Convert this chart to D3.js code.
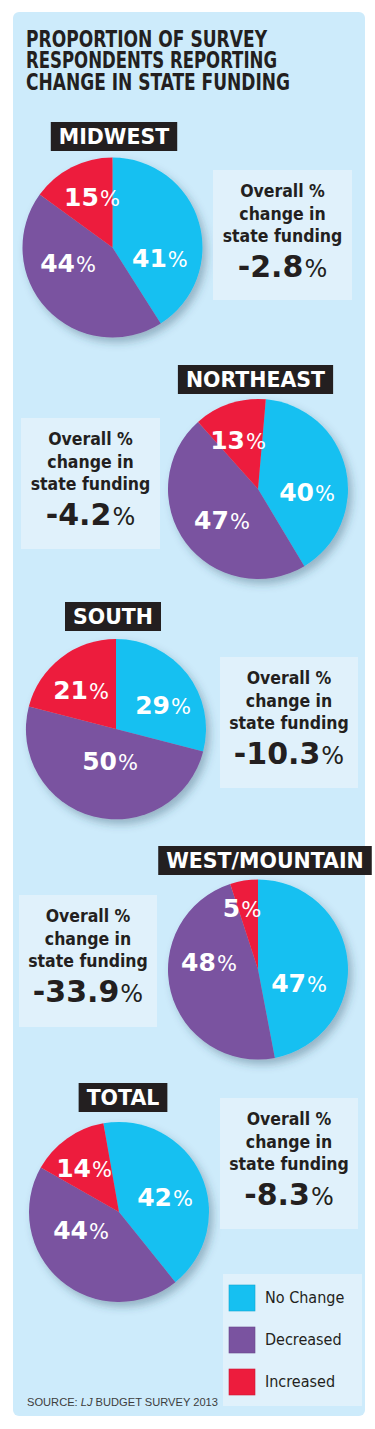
<!DOCTYPE html>
<html>
<head>
<meta charset="utf-8">
<script src="https://cdn.jsdelivr.net/npm/d3@7"></script>
<style>
  body { margin: 0; background: #fff; }
  svg { display: block; }
</style>
</head>
<body>
<div id="chart"></div>
<script>
// data
var regions = ["MIDWEST", "NORTHEAST", "SOUTH", "WEST/MOUNTAIN", "TOTAL"];
var categories = ["No Change", "Decreased", "Increased"];
var noChange = [41, 40, 29, 47, 42];
var decreased = [44, 47, 50, 48, 44];
var increased = [15, 13, 21, 5, 14];
var overallChange = [-2.8, -4.2, -10.3, -33.9, -8.3];
var titleLines = ["PROPORTION OF SURVEY", "RESPONDENTS REPORTING", "CHANGE IN STATE FUNDING"];

var colors = ["#16c0f1", "#7a53a0", "#ed1c3d"];

// layout for each block (pie centre, tag, info box, label spots)
var layout = [
    {cx: 112.5, cy: 247.5, rot: 0, tagX: 114, tagY: 122, box: [213, 170, 139, 130],
     lab: [[102.5, 48.6], [250.8, 47.1], [337.9, 54.5]]},
    {cx: 258, cy: 489, rot: 5, tagX: 255.5, tagY: 365, box: [21, 418, 139, 131],
     lab: [[93.5, 49.1], [229.3, 47.5], [337.8, 52.9]]},
    {cx: 116, cy: 729, rot: 0, tagX: 113, tagY: 602, box: [220, 657, 138, 131],
     lab: [[63, 52.8], [190.6, 32.6], [318.1, 52.4]]},
    {cx: 258, cy: 969.5, rot: 0, tagX: 265, tagY: 846, box: [19, 895, 138, 132],
     lab: [[108.2, 43.2], [278.7, 49.6], [345.4, 63.5]]},
    {cx: 119, cy: 1212, rot: -10, tagX: 123, tagY: 1083, box: [220, 1098, 138, 131],
     lab: [[71.9, 48.4], [244.7, 42], [321.5, 56.2]]}
];

var width = 375, height = 1429, radius = 90;
var sansB = '"DejaVu Sans", sans-serif';

var svg = d3.select("#chart").append("svg")
    .attr("width", width).attr("height", height);

var defs = svg.append("defs");
var f = defs.append("filter").attr("id", "shadow")
    .attr("x", "-20%").attr("y", "-20%").attr("width", "150%").attr("height", "150%");
f.append("feDropShadow").attr("dx", 4).attr("dy", 5).attr("stdDeviation", 4)
    .attr("flood-color", "#2a4a60").attr("flood-opacity", 0.35);

// background panel
svg.append("rect")
    .attr("x", 13).attr("y", 12).attr("width", 352).attr("height", 1404)
    .attr("rx", 6).attr("fill", "#cdebfb");

// title
var titleWidths = [241, 251, 264];
svg.selectAll(".title").data(titleLines).enter().append("text")
    .attr("class", "title")
    .attr("x", 26)
    .attr("y", function(d, i) { return 46.7 + i * 21.7; })
    .attr("textLength", function(d, i) { return titleWidths[i]; })
    .attr("lengthAdjust", "spacingAndGlyphs")
    .style("font-family", '"Liberation Sans Narrow", "DejaVu Sans Condensed", "Liberation Sans", sans-serif')
    .style("font-stretch", "condensed")
    .style("font-weight", "bold")
    .style("font-size", "23.5px")
    .style("fill", "#231f20")
    .text(function(d) { return d; });

var pie = d3.pie().sort(null).value(function(d) { return d; });
var arc = d3.arc().innerRadius(0).outerRadius(radius);

regions.forEach(function(name, i) {
    var L = layout[i];
    var vals = [noChange[i], decreased[i], increased[i]];
    var a0 = L.rot * Math.PI / 180;
    var arcs = pie.startAngle(a0).endAngle(a0 + 2 * Math.PI)(vals);

    var g = svg.append("g").attr("transform", "translate(" + L.cx + "," + L.cy + ")");
    var slices = g.append("g").attr("filter", "url(#shadow)");
    slices.selectAll("path").data(arcs).enter().append("path")
        .attr("d", arc)
        .attr("fill", function(d, j) { return colors[j]; });

    // percentage labels
    var lab = g.selectAll(".pct").data(arcs).enter().append("text")
        .attr("class", "pct")
        .attr("transform", function(d, j) {
            var p = d3.pointRadial(L.lab[j][0] * Math.PI / 180, L.lab[j][1]);
            return "translate(" + p[0] + "," + (p[1] + 9) + ")";
        })
        .style("text-anchor", "middle")
        .style("font-family", sansB)
        .style("fill", "#fff");
    lab.append("tspan").style("font-weight", "bold").style("font-size", "25px")
        .text(function(d) { return d.data; });
    lab.append("tspan").style("font-size", "21px").attr("dx", 1)
        .text("%");

    // region tag
    var tag = svg.append("g");
    var tt = tag.append("text")
        .attr("x", L.tagX).attr("y", L.tagY + 21.5)
        .style("text-anchor", "middle")
        .style("font-family", sansB)
        .style("font-weight", "bold")
        .style("font-size", "20.5px")
        .style("fill", "#fff")
        .text(name);
    var bb = tt.node().getBBox();
    tag.insert("rect", "text")
        .attr("x", bb.x - 8).attr("y", L.tagY)
        .attr("width", bb.width + 16).attr("height", 29)
        .attr("fill", "#231f20");

    // info box
    var b = L.box;
    svg.append("rect")
        .attr("x", b[0]).attr("y", b[1]).attr("width", b[2]).attr("height", b[3])
        .attr("fill", "#e0f1fb");
    var mx = b[0] + b[2] / 2;
    var lines = ["Overall %", "change in", "state funding"];
    svg.selectAll(null).data(lines).enter().append("text")
        .attr("x", mx)
        .attr("y", function(d, k) { return b[1] + 27 + k * 22.5; })
        .style("text-anchor", "middle")
        .style("font-family", sansB)
        .style("font-stretch", "condensed")
        .style("font-weight", "bold")
        .style("font-size", "17.5px")
        .style("fill", "#231f20")
        .text(function(d) { return d; });
    var big = svg.append("text")
        .attr("x", mx).attr("y", b[1] + 107)
        .style("text-anchor", "middle")
        .style("font-family", sansB)
        .style("fill", "#231f20");
    big.append("tspan").style("font-weight", "bold").style("font-size", "30px")
        .text(overallChange[i].toFixed(1));
    big.append("tspan").style("font-size", "24px").attr("dx", 1).text("%");
});

// legend
var legend = svg.append("g");
legend.append("rect")
    .attr("x", 223).attr("y", 1274).attr("width", 139).attr("height", 132)
    .attr("fill", "#e0f1fb");
var ly = d3.scaleBand().domain(categories).range([1274, 1400]).paddingInner(0);
var item = legend.selectAll(".item").data(categories).enter().append("g")
    .attr("transform", function(d) { return "translate(229," + (ly(d) + 11) + ")"; });
item.append("rect")
    .attr("width", 26).attr("height", 26)
    .attr("fill", function(d, j) { return colors[j]; })
    .attr("stroke", function(d, j) { return d3.color(colors[j]).darker(0.4); })
    .attr("stroke-width", 0.6);
item.append("text")
    .attr("x", 36).attr("y", 18)
    .style("font-family", sansB)
    .style("font-stretch", "condensed")
    .style("font-size", "16px")
    .style("fill", "#231f20")
    .text(function(d) { return d; });

// source
var src = svg.append("text")
    .attr("x", 27).attr("y", 1406)
    .attr("textLength", 191).attr("lengthAdjust", "spacingAndGlyphs")
    .style("font-family", '"Liberation Sans", sans-serif')
    .style("font-size", "11.5px")
    .style("fill", "#3d3d3d");
src.append("tspan").text("SOURCE: ");
src.append("tspan").style("font-style", "italic").text("LJ");
src.append("tspan").text(" BUDGET SURVEY 2013");
</script>
</body>
</html>
